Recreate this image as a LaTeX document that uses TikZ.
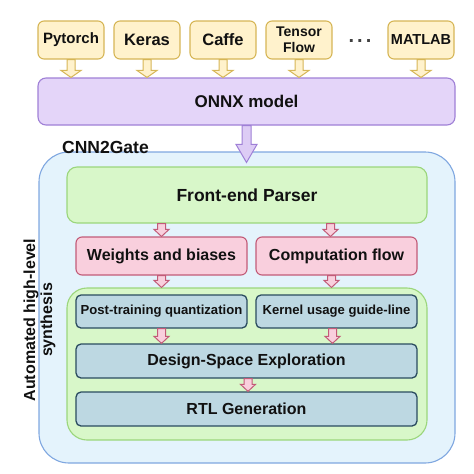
\documentclass[tikz,border=0pt]{standalone}
\usepackage{fontspec}
\setmainfont{Liberation Sans}
\usetikzlibrary{calc}
\definecolor{ylwF}{HTML}{FFF2CC}
\definecolor{ylwD}{HTML}{D6B656}
\definecolor{purF}{HTML}{E4D5F9}
\definecolor{purD}{HTML}{9F80D6}
\definecolor{bluF}{HTML}{E4F3FC}
\definecolor{bluD}{HTML}{7FA7E0}
\definecolor{grnF}{HTML}{D8F7C9}
\definecolor{grnD}{HTML}{9BD67C}
\definecolor{pnkF}{HTML}{F9CFDD}
\definecolor{pnkD}{HTML}{C25B78}
\definecolor{gryF}{HTML}{BDD8E2}
\definecolor{gryD}{HTML}{2A4B5F}
\definecolor{txt}{HTML}{111111}
\newcommand\blockarr[6]{%
  \draw[#1] let \p1=(#2), \p2=(#3) in
   (\x1-#4,\y1) -- (\x1-#4,\y2+#6) -- (\x1-#5,\y2+#6) -- (\x1,\y2) --
   (\x1+#5,\y2+#6) -- (\x1+#4,\y2+#6) -- (\x1+#4,\y1) -- cycle;}
\tikzset{
  fs/.style={font=\fontsize{#1}{#1}\selectfont\bfseries},
  box/.style={draw, line width=1.1pt, rounded corners=6pt, inner sep=0pt, align=center, text=txt},
  srcbox/.style={box, fill=ylwF, draw=ylwD, minimum width=66pt, minimum height=38pt},
  onnxbox/.style={box, fill=purF, draw=purD, rounded corners=8pt},
  outerbox/.style={draw, line width=1.1pt, fill=bluF, draw=bluD, rounded corners=30pt, inner sep=0pt},
  greenbox/.style={box, fill=grnF, draw=grnD},
  pinkbox/.style={box, fill=pnkF, draw=pnkD, minimum height=38pt},
  graybox/.style={box, fill=gryF, draw=gryD, line width=1.3pt, rounded corners=5pt},
  yarr/.style={fill=ylwF, draw=ylwD, line width=1pt},
  parr/.style={fill=purF!90!purD, draw=purD, line width=1pt},
  rarr/.style={fill=pnkF, draw=pnkD, line width=1pt},
  lbl/.style={inner sep=0pt, text=txt, align=center},
}
\begin{document}
\begin{tikzpicture}[x=1pt,y=-1pt]
\useasboundingbox (0,0) rectangle (474,474);
% source frameworks
\node[srcbox, fs=15] (pyt) at (71,40) {Pytorch};
\node[srcbox, fs=16.5] (ker) at (147,40) {Keras};
\node[srcbox, fs=16.5] (caf) at (223,40) {Caffe};
\node[srcbox, font=\fontsize{14}{16}\selectfont\bfseries] (tf) at (299,40) {Tensor\\Flow};
\node[lbl, text=black!75, font=\fontsize{20}{20}\selectfont\bfseries] (dots) at (360,41) {.\hspace{3pt}.\hspace{3pt}.};
\node[srcbox, fs=14.5] (mat) at (421,40) {MATLAB};
% ONNX
\node[onnxbox, fs=17, minimum width=417pt, minimum height=47pt] (onnx) at (246.5,101.5) {ONNX model};
% CNN2Gate container
\node[outerbox, minimum width=416pt, minimum height=311pt] (outer) at (247,307.5) {};
\node[lbl, fs=17.5, anchor=west] (title) at (62,147) {CNN2Gate};
\node[greenbox, fs=17.5, rounded corners=10pt, minimum width=360pt, minimum height=56pt] (fep) at (247,195) {Front-end Parser};
\node[pinkbox, fs=16, minimum width=171pt] (wb) at (161.5,256) {Weights and biases};
\node[pinkbox, fs=16, minimum width=161pt] (cf) at (336.5,256) {Computation flow};
\node[greenbox, rounded corners=20pt, minimum width=360pt, minimum height=152pt] (hls) at (247,364) {};
\node[graybox, fs=13.1, minimum width=171pt, minimum height=33pt] (ptq) at (161.5,311.5) {Post-training quantization};
\node[graybox, fs=13.1, minimum width=161pt, minimum height=33pt] (kug) at (336.5,311.5) {Kernel usage guide-line};
\node[graybox, fs=16, minimum width=341pt, minimum height=34pt] (dse) at (246.5,361) {Design-Space Exploration};
\node[graybox, fs=16, minimum width=341pt, minimum height=34pt] (rtl) at (246.5,409) {RTL Generation};
\node[lbl, rotate=90, font=\fontsize{16}{17}\selectfont\bfseries] (side) at (39.5,320) {Automated high-level\\synthesis};
% arrows
\blockarr{yarr}{pyt.south}{pyt.south |- onnx.north}{4pt}{10pt}{7pt}
\blockarr{yarr}{ker.south}{ker.south |- onnx.north}{4pt}{10pt}{7pt}
\blockarr{yarr}{caf.south}{caf.south |- onnx.north}{4pt}{10pt}{7pt}
\blockarr{yarr}{tf.south}{tf.south |- onnx.north}{4pt}{10pt}{7pt}
\blockarr{yarr}{mat.south}{mat.south |- onnx.north}{4pt}{10pt}{7pt}
\blockarr{parr}{onnx.south}{$(onnx.south |- fep.north)+(0,-4)$}{4.5pt}{10.5pt}{18pt}
\blockarr{rarr}{wb.north |- fep.south}{wb.north}{4pt}{7.5pt}{7pt}
\blockarr{rarr}{$(cf.north |- fep.south)+(-6,0)$}{$(cf.north)+(-6,0)$}{4pt}{7.5pt}{7pt}
\blockarr{rarr}{wb.south}{wb.south |- hls.north}{4pt}{7.5pt}{7pt}
\blockarr{rarr}{$(cf.south)+(-5,0)$}{$(cf.south |- hls.north)+(-5,0)$}{4pt}{7.5pt}{7pt}
\blockarr{rarr}{ptq.south}{ptq.south |- dse.north}{4pt}{7.5pt}{7pt}
\blockarr{rarr}{$(kug.south)+(-4,0)$}{$(kug.south |- dse.north)+(-4,0)$}{4pt}{7.5pt}{7pt}
\blockarr{rarr}{$(dse.south)+(1.5,0)$}{$(dse.south |- rtl.north)+(1.5,0)$}{4pt}{7.5pt}{7pt}
\end{tikzpicture}
\end{document}
